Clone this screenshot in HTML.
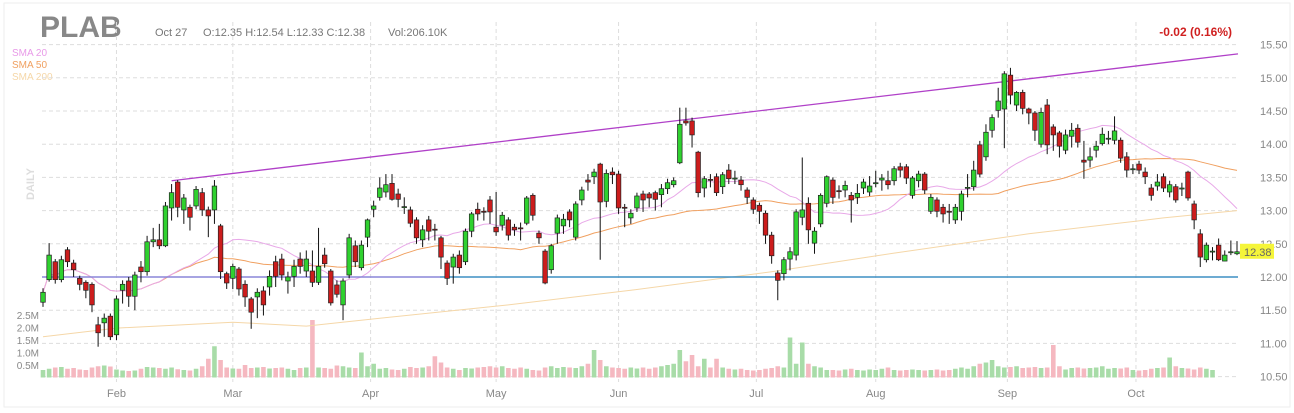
<!DOCTYPE html>
<html><head><meta charset="utf-8">
<style>
html,body{margin:0;padding:0;background:#fff;}
svg{display:block;font-family:"Liberation Sans",sans-serif;}
</style></head>
<body>
<svg id="chart" width="1294" height="413" viewBox="0 0 1294 413">
<rect x="4" y="3" width="1286" height="404" fill="#fff" stroke="#eee"/>
<text x="40" y="37" font-size="30" font-weight="bold" fill="#888">PLAB</text>
<text x="155" y="36" font-size="11" fill="#777">Oct 27</text>
<text x="203" y="36" font-size="11" fill="#777">O:12.35  H:12.54  L:12.33  C:12.38</text>
<text x="388" y="36" font-size="11" fill="#777">Vol:206.10K</text>
<text x="1232" y="36" font-size="12" font-weight="bold" fill="#d02020" text-anchor="end">-0.02 (0.16%)</text>
<text x="12" y="56" font-size="10" fill="#e89ae8">SMA 20</text>
<text x="12" y="68" font-size="10" fill="#f0a060">SMA 50</text>
<text x="12" y="80" font-size="10" fill="#f5d7a8">SMA 200</text>
<text x="34" y="200" font-size="11" font-weight="bold" fill="#ddd" transform="rotate(-90 34 200)">DAILY</text>
<g id="grid"></g><g id="vol"></g><g id="lines"></g><g id="candles"></g><g id="axes"></g>
</svg>
<script>
const opens=[11.62,11.96,12.23,11.96,12.41,12.21,11.98,11.92,11.89,11.28,11.31,11.41,11.13,11.80,11.94,11.71,12.15,12.08,12.53,12.56,12.47,13.04,13.43,13.01,13.05,13.07,13.27,13.01,13.01,12.77,12.05,11.98,12.12,11.89,11.67,11.70,11.79,11.85,12.23,12.27,11.94,12.01,12.27,12.09,12.09,11.92,12.33,12.09,11.88,11.58,12.03,12.47,12.14,12.60,13.02,13.20,13.28,13.41,13.25,13.05,13.01,12.86,12.56,12.86,12.72,12.59,12.21,12.15,12.33,12.23,12.69,13.02,12.99,13.16,12.75,12.78,12.86,12.75,12.74,12.81,13.23,12.66,12.39,12.11,12.66,12.77,12.98,12.60,13.16,13.46,13.51,13.70,13.14,13.58,13.55,13.05,12.89,13.04,13.25,13.25,13.27,13.24,13.33,13.39,13.72,14.35,14.35,13.88,13.34,13.47,13.51,13.36,13.61,13.49,13.46,13.31,13.16,13.08,12.96,12.63,12.06,12.05,12.27,12.33,12.90,13.11,12.51,12.80,13.11,13.46,13.30,13.31,13.23,13.20,13.34,13.28,13.42,13.46,13.45,13.45,13.66,13.66,13.23,13.45,13.55,12.99,13.16,13.05,12.99,12.86,12.99,13.34,13.36,13.99,13.81,14.21,14.51,14.53,15.04,14.59,14.78,14.53,14.47,14.00,14.59,14.26,14.17,13.91,14.12,14.24,13.76,13.76,13.91,14.01,14.09,14.06,14.06,13.81,13.63,13.70,13.58,13.34,13.37,13.51,13.28,13.36,13.34,13.58,13.10,12.65,12.26,12.38,12.48,12.24,12.38,12.35];
const closes=[11.77,12.33,11.96,12.26,12.23,12.11,11.89,11.80,11.58,11.16,11.38,11.10,11.67,11.89,11.71,12.03,12.08,12.53,12.56,12.47,13.07,13.27,13.05,13.19,12.90,13.32,13.01,12.92,13.37,12.08,11.91,12.16,11.82,11.70,11.47,11.77,11.58,12.01,12.01,12.03,12.00,12.16,12.16,12.27,11.92,12.16,12.20,11.61,11.74,11.94,12.59,12.23,12.48,12.86,13.07,13.34,13.39,13.17,13.17,13.06,12.81,12.59,12.71,12.69,12.71,12.30,11.98,12.30,12.14,12.69,12.95,12.95,12.98,12.98,12.68,12.93,12.63,12.71,12.73,13.19,12.93,12.59,11.91,12.47,12.89,12.87,12.86,13.10,13.31,13.43,13.58,13.13,13.56,13.54,13.04,13.04,12.96,13.22,13.16,13.19,13.17,13.33,13.42,13.45,14.30,14.32,14.14,13.27,13.48,13.46,13.27,13.54,13.48,13.49,13.39,13.20,13.02,12.99,12.63,12.32,11.95,12.26,12.38,12.98,13.01,12.71,12.69,13.23,13.51,13.20,13.29,13.38,13.16,13.26,13.43,13.37,13.42,13.49,13.39,13.63,13.61,13.49,13.49,13.55,13.31,13.20,12.99,12.95,12.98,13.05,13.25,13.35,13.61,13.55,14.18,14.40,14.65,15.06,14.74,14.78,14.54,14.47,14.21,14.48,13.99,14.14,13.97,14.14,14.21,14.03,13.73,13.81,13.97,14.15,14.09,14.20,13.79,13.61,13.63,13.61,13.51,13.23,13.43,13.34,13.39,13.16,13.34,13.19,12.86,12.30,12.48,12.39,12.26,12.33,12.38,12.38];
const highs=[11.83,12.51,12.27,12.32,12.45,12.26,12.02,11.95,11.92,11.40,11.45,11.45,11.72,11.95,12.00,12.08,12.24,12.62,12.74,12.80,13.13,13.40,13.46,13.25,13.09,13.37,13.34,13.06,13.46,12.80,12.08,12.20,12.15,11.95,11.70,11.83,11.86,12.10,12.32,12.35,12.08,12.26,12.37,12.40,12.40,12.74,12.44,12.12,11.95,11.98,12.65,12.55,12.55,12.88,13.15,13.50,13.55,13.55,13.33,13.20,13.06,12.90,12.78,12.92,12.80,12.62,12.25,12.35,12.40,12.73,12.98,13.12,13.05,13.22,13.28,12.98,12.90,12.80,12.82,13.22,13.26,12.70,12.42,12.50,12.94,12.95,13.02,13.14,13.36,13.55,13.63,13.72,13.62,13.65,13.60,13.10,13.02,13.27,13.30,13.28,13.30,13.40,13.48,13.50,14.55,14.55,14.40,13.90,13.52,13.55,13.56,13.58,13.70,13.60,13.52,13.35,13.20,13.12,13.00,12.68,12.10,12.30,12.45,13.02,13.80,13.20,12.75,13.26,13.53,13.50,13.38,13.45,13.28,13.40,13.48,13.52,13.60,13.55,13.60,13.67,13.72,13.70,13.52,13.60,13.58,13.25,13.20,13.10,13.10,13.10,13.30,13.55,13.75,14.05,14.30,14.45,14.85,15.10,15.15,14.80,14.82,14.55,14.50,14.55,14.68,14.30,14.20,14.22,14.32,14.30,14.05,13.95,14.05,14.25,14.20,14.42,14.10,13.88,13.70,13.75,13.65,13.40,13.55,13.56,13.45,13.40,13.42,13.60,13.15,12.72,12.52,12.45,12.58,12.40,12.55,12.54];
const lows=[11.55,11.93,11.90,11.92,12.15,12.00,11.80,11.68,11.47,10.95,11.10,11.05,11.05,11.60,11.55,11.50,11.92,12.02,12.45,12.42,12.45,12.85,12.90,12.80,12.70,13.02,12.92,12.60,12.80,11.97,11.82,11.82,11.72,11.55,11.22,11.38,11.42,11.72,11.85,11.95,11.75,11.85,12.05,12.00,11.85,11.88,12.14,11.57,11.69,11.35,11.98,12.15,12.10,12.45,12.90,13.15,13.20,13.15,13.05,12.95,12.75,12.50,12.45,12.55,12.55,12.12,11.88,11.90,12.05,12.18,12.60,12.85,12.85,12.80,12.62,12.70,12.55,12.62,12.55,12.78,12.85,12.50,11.89,12.05,12.50,12.65,12.75,12.55,13.08,13.30,13.40,12.26,13.05,13.40,12.95,12.75,12.80,12.98,12.98,13.05,13.00,13.05,13.25,13.35,13.70,14.28,13.95,13.20,13.20,13.35,13.22,13.25,13.40,13.40,13.30,13.10,12.95,12.80,12.50,12.20,11.65,11.95,12.10,12.25,12.78,12.50,12.35,12.75,13.05,13.10,13.18,13.20,12.82,13.10,13.25,13.22,13.35,13.30,13.32,13.38,13.50,13.40,13.18,13.35,13.25,12.95,12.90,12.82,12.80,12.80,12.85,13.20,13.30,13.50,13.75,14.10,14.40,13.94,14.60,14.50,14.45,14.30,14.05,13.95,13.85,13.90,13.80,13.85,13.95,13.95,13.48,13.65,13.80,13.98,14.00,14.00,13.72,13.50,13.55,13.55,13.40,13.15,13.30,13.28,13.20,13.12,13.22,13.15,12.72,12.15,12.22,12.25,12.24,12.24,12.33,12.33];
const volumes=[0.30,0.35,0.40,0.42,0.35,0.38,0.32,0.30,0.40,0.45,0.48,0.44,0.32,0.28,0.26,0.28,0.35,0.42,0.40,0.38,0.35,0.40,0.33,0.30,0.28,0.35,0.45,0.75,1.25,0.70,0.40,0.36,0.35,0.50,0.38,0.40,0.42,0.36,0.38,0.40,0.35,0.30,0.38,0.40,2.30,0.40,0.38,0.35,0.48,0.45,0.40,0.38,1.00,0.45,0.55,0.35,0.38,0.32,0.30,0.35,0.42,0.38,0.40,0.45,0.85,0.60,0.40,0.35,0.30,0.38,0.36,0.40,0.42,0.45,0.40,0.45,0.38,0.35,0.40,0.35,0.30,0.28,0.40,0.45,0.38,0.42,0.40,0.38,0.45,0.55,1.10,0.70,0.45,0.40,0.38,0.35,0.40,0.36,0.40,0.35,0.40,0.45,0.50,0.55,1.10,0.65,0.90,0.45,0.75,0.40,0.75,0.40,0.35,0.32,0.35,0.30,0.28,0.30,0.35,0.38,0.45,0.40,1.60,0.55,1.40,0.55,0.45,0.40,0.30,0.30,0.28,0.32,0.35,0.30,0.28,0.32,0.30,0.35,0.40,0.30,0.28,0.30,0.32,0.30,0.28,0.30,0.32,0.28,0.30,0.35,0.40,0.35,0.45,0.55,0.60,0.70,0.45,0.40,0.42,0.45,0.38,0.40,0.42,0.38,0.40,1.30,0.45,0.32,0.38,0.40,0.36,0.38,0.40,0.45,0.35,0.38,0.36,0.40,0.30,0.28,0.30,0.35,0.38,0.40,0.80,0.45,0.38,0.36,0.32,0.40,0.35,0.30];
const sma200Idx=[0,12,31,43,55,76,96,119,139,161,183,195];
const sma200Val=[11.10,11.23,11.32,11.26,11.38,11.58,11.80,12.08,12.36,12.65,12.89,13.00];
const priceTicks=[15.5,15.0,14.5,14.0,13.5,13.0,12.5,12.0,11.5,11.0,10.5];
const volTicks=[2.5,2.0,1.5,1.0,0.5];
const volTickLabels=["2.5M","2.0M","1.5M","1.0M","0.5M"];
const monthLabels=["Feb","Mar","Apr","May","Jun","Jul","Aug","Sep","Oct"];
const monthIdx=[12,31,53.5,74,94,116.5,136,157.5,178.5];
const trendStart=[21,13.45];
const trendEnd=[195,15.36];
const supportLevel=12.0;
const lastPrice=12.38;

const NS="http://www.w3.org/2000/svg";
const X0=43,X1=1237,PL=42,PR=1238;
const N=closes.length;
const xs=i=>X0+i*(X1-X0)/(N-1);
const yp=p=>277-(p-12)*66.4;
const yv=v=>377.5-v*25;
function mk(tag,parent,attrs){const e=document.createElementNS(NS,tag);for(const k in attrs)e.setAttribute(k,attrs[k]);parent.appendChild(e);return e;}
const grid=document.getElementById('grid'),vol=document.getElementById('vol'),lines=document.getElementById('lines'),cg=document.getElementById('candles'),axes=document.getElementById('axes');

priceTicks.forEach(p=>{
  const l=mk('line',grid,{x1:PL,x2:PR,y1:yp(p),y2:yp(p),stroke:'#ddd','stroke-dasharray':'4,3'});
  
  
  const t=mk('text',axes,{x:1260,y:yp(p)+4,'font-size':11,fill:'#888'});
  t.textContent=p.toFixed(2);
  
  
});
monthIdx.forEach((m,k)=>{
  const x=xs(m);
  const l=mk('line',grid,{x1:x,x2:x,y1:22,y2:382,stroke:'#ddd','stroke-dasharray':'4,3'});
  
  
  const t=mk('text',axes,{x:x,y:397,'font-size':11,fill:'#888','text-anchor':'middle'});
  t.textContent=monthLabels[k];
  
  
});
volTicks.forEach((v,k)=>{
  const t=mk('text',axes,{x:39,y:yv(v)+4,'font-size':10,fill:'#888','text-anchor':'end'});
  t.textContent=volTickLabels[k];
  
  
});
const bw=(X1-X0)/(N-1)*0.75;
volumes.forEach((v,i)=>{
  const up=closes[i]>=opens[i];
  const r=mk('rect',vol,{x:xs(i)-bw/2,y:yv(v),width:bw,height:377.5-yv(v),fill:up?'#a8dca8':'#f5b8c0'});
  
  
});
function sma(w){const out=[];for(let i=0;i<N;i++){const s=Math.max(0,i-w+1);let sum=0;for(let j=s;j<=i;j++)sum+=closes[j];out.push(sum/(i-s+1));}return out;}
function poly(vals,idx,color,name,wid){
  const pts=vals.map((v,k)=>xs(idx?idx[k]:k).toFixed(1)+','+yp(v).toFixed(1)).join(' ');
  const p=mk('polyline',lines,{points:pts,fill:'none',stroke:color,'stroke-width':wid||1});
  
  
}
poly(sma200Val,sma200Idx,'#f5d7a8','sma200-line');
poly(sma(50),null,'#f0a060','sma50-line');
poly(sma(20),null,'#e8a8e8','sma20-line');
const sup1=mk('line',lines,{x1:PL,x2:440,y1:yp(supportLevel),y2:yp(supportLevel),stroke:'#8a86d8','stroke-width':1.5});


const sup2=mk('line',lines,{x1:440,x2:PR,y1:yp(supportLevel),y2:yp(supportLevel),stroke:'#3d8fc4','stroke-width':1.5});


const tr=mk('line',lines,{x1:xs(trendStart[0]),y1:yp(trendStart[1]),x2:PR,y2:yp(trendEnd[1]),stroke:'#b040c8','stroke-width':1.3});


for(let i=0;i<N;i++){
  const x=xs(i),up=closes[i]>=opens[i];
  const w=mk('line',cg,{x1:x,x2:x,y1:yp(highs[i]),y2:yp(lows[i]),stroke:'#111','stroke-width':1});
  
  
  const top=yp(Math.max(opens[i],closes[i])),bot=yp(Math.min(opens[i],closes[i]));
  const b=mk('rect',cg,{x:x-bw/2,y:top,width:bw,height:Math.max(1,bot-top),fill:up?'#2fd12f':'#cc1c1c',stroke:'#222','stroke-width':0.7});
  
  
}
const lb=mk('rect',axes,{x:1240,y:yp(lastPrice)-8,width:34,height:15,fill:'#f5f53a'});


const lt=mk('text',axes,{x:1244,y:yp(lastPrice)+4,'font-size':11,fill:'#666'});
lt.textContent=lastPrice.toFixed(2);


</script>
</body></html>
